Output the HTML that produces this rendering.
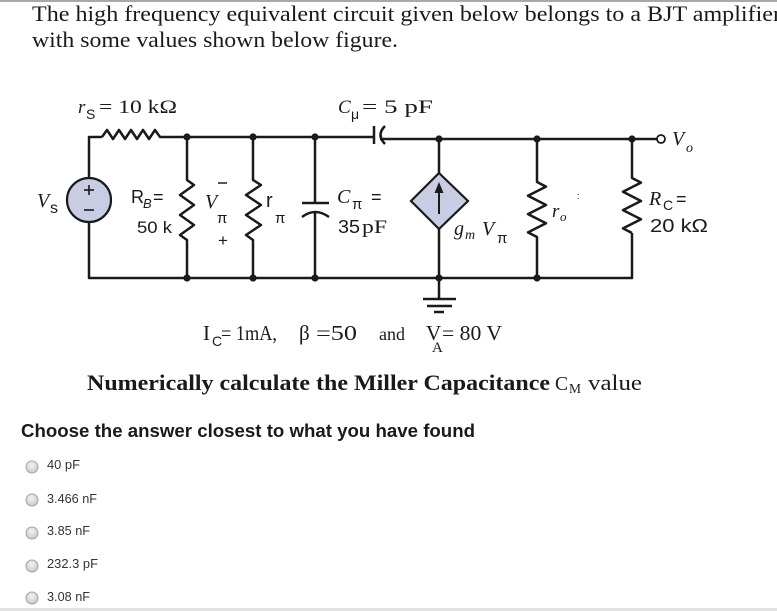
<!DOCTYPE html>
<html><head><meta charset="utf-8"><style>
html,body{margin:0;padding:0;background:#fff;}
svg{display:block;}
.s{font-family:"Liberation Serif",serif;fill:#1a1a1a;}
.a{font-family:"Liberation Sans",sans-serif;fill:#1a1a1a;}
.i{font-style:italic;}
.w{stroke:#1a1a1a;stroke-width:2.5;fill:none;stroke-linejoin:round;}
</style></head><body>
<svg width="777" height="611" viewBox="0 0 777 611" xmlns="http://www.w3.org/2000/svg">
<defs>
<radialGradient id="rg" cx="45%" cy="35%" r="70%">
<stop offset="0" stop-color="#f4f4f4"/><stop offset="1" stop-color="#c4c4c4"/>
</radialGradient>
</defs>
<rect x="0" y="0" width="777" height="611" fill="#fff"/>
<rect x="0" y="0" width="777" height="2" fill="#a8a8a8"/>
<rect x="0" y="608" width="777" height="3" fill="#e2e2e2"/>

<!-- header text -->
<text class="s" x="32" y="21" font-size="22" textLength="749" lengthAdjust="spacingAndGlyphs">The high frequency equivalent circuit given below belongs to a BJT amplifier</text>
<text class="s" x="32" y="47" font-size="22" textLength="366" lengthAdjust="spacingAndGlyphs">with some values shown below figure.</text>

<!-- circuit wires -->
<polyline class="w" points="89,178 89,137 102,137"/>
<polyline class="w" points="102,137 107,130 113,139 119,130 125,139 131,130 137,139 143,130 149,139 155,130 160,137 374,137"/>
<line class="w" x1="374" y1="126" x2="374" y2="144"/>
<path class="w" d="M385,126 Q376,135 385,144"/>
<line class="w" x1="380" y1="139" x2="657" y2="139"/>
<circle cx="661" cy="139" r="4" fill="#fff" stroke="#1a1a1a" stroke-width="1.8"/>
<polyline class="w" points="89,222 89,278 632,278 632,233"/>

<!-- Vs source -->
<circle cx="89" cy="200" r="22" fill="#c8cde4" stroke="#1a1a1a" stroke-width="2.2"/>
<line x1="84" y1="190" x2="94" y2="190" stroke="#1a1a1a" stroke-width="1.6"/>
<line x1="89" y1="185" x2="89" y2="195" stroke="#1a1a1a" stroke-width="1.6"/>
<line x1="84" y1="210" x2="94" y2="210" stroke="#1a1a1a" stroke-width="1.6"/>

<!-- RB -->
<polyline class="w" points="187,137 187,180 194,185 180,195 194,205 180,215 194,225 180,235 187,240 187,278"/>
<!-- r_pi -->
<polyline class="w" points="253,137 253,180 261,185 246,195 261,205 246,215 261,225 246,235 253,240 253,278"/>
<!-- C_pi -->
<line class="w" x1="315" y1="137" x2="315" y2="203"/>
<line class="w" x1="302" y1="203" x2="329" y2="203"/>
<path class="w" d="M302,217 Q315,207 329,217"/>
<line class="w" x1="315" y1="212" x2="315" y2="278"/>
<!-- dependent source -->
<line class="w" x1="439" y1="139" x2="439" y2="173"/>
<polygon points="439,173 468,201 439,229 411,201" fill="#c8cde4" stroke="#1a1a1a" stroke-width="2.2"/>
<line x1="439" y1="214" x2="439" y2="190" stroke="#1a1a1a" stroke-width="2"/>
<polygon points="439,182 434.5,193 443.5,193" fill="#1a1a1a"/>
<line class="w" x1="439" y1="229" x2="439" y2="299"/>
<line class="w" x1="423" y1="299" x2="456" y2="299"/>
<line class="w" x1="427" y1="306" x2="452" y2="306"/>
<line class="w" x1="434" y1="312" x2="444" y2="312"/>
<!-- r_o -->
<polyline class="w" points="537,139 537,182 546,186.6 528,195.8 546,205 528,214.1 546,223.3 528,232.4 537,237 537,278"/>
<!-- Rc -->
<polyline class="w" points="632,139 632,178 641,182.6 623,191.8 641,201 623,210.1 641,219.3 623,228.4 632,233"/>

<!-- nodes -->
<g fill="#1a1a1a">
<circle cx="187" cy="137" r="3.6"/><circle cx="253" cy="137" r="3.6"/><circle cx="315" cy="137" r="3.6"/>
<circle cx="439" cy="139" r="3.6"/><circle cx="537" cy="139" r="3.6"/><circle cx="632" cy="139" r="3.6"/>
<circle cx="187" cy="278" r="3.6"/><circle cx="253" cy="278" r="3.6"/><circle cx="315" cy="278" r="3.6"/>
<circle cx="439" cy="278" r="3.6"/><circle cx="537" cy="278" r="3.6"/>
</g>

<!-- circuit labels -->
<text class="s i" x="78" y="113" font-size="19">r</text>
<text class="a" x="86" y="119" font-size="14">S</text>
<text class="s" x="99" y="113" font-size="19" textLength="78" lengthAdjust="spacingAndGlyphs">= 10 kΩ</text>

<text class="s i" x="338" y="113" font-size="19">C</text>
<text class="a" x="351" y="119" font-size="14">μ</text>
<text class="s" x="362" y="113" font-size="19" textLength="71" lengthAdjust="spacingAndGlyphs">= 5 pF</text>

<text class="s i" x="37" y="207" font-size="20">V</text>
<text class="a" x="50" y="213" font-size="16">s</text>

<text class="a" x="131" y="203" font-size="18">R</text>
<text class="a i" x="143" y="208" font-size="13">B</text>
<text class="a" x="153" y="203" font-size="18">=</text>
<text class="a" x="137" y="233" font-size="17" textLength="35" lengthAdjust="spacingAndGlyphs">50 k</text>

<line x1="218" y1="183" x2="227" y2="183" stroke="#1a1a1a" stroke-width="1.5"/>
<text class="s i" x="205" y="208" font-size="20">V</text>
<text class="a" x="217" y="223" font-size="15">π</text>
<text class="a" x="223" y="246" font-size="17" text-anchor="middle">+</text>

<text class="a" x="266" y="207" font-size="20">r</text>
<text class="a" x="275" y="223" font-size="15">π</text>

<text class="s i" x="337" y="203" font-size="20">C</text>
<text class="a" x="352" y="209" font-size="15">π</text>
<text class="a" x="371" y="203" font-size="18">=</text>
<text class="a" x="338" y="233" font-size="18" textLength="22" lengthAdjust="spacingAndGlyphs">35</text>
<text class="s" x="362" y="233" font-size="19" textLength="25" lengthAdjust="spacingAndGlyphs">pF</text>

<text class="s i" x="454" y="235" font-size="20">g</text>
<text class="s i" x="465" y="239" font-size="14">m</text>
<text class="s i" x="482" y="235" font-size="20">V</text>
<text class="a" x="497" y="243" font-size="15">π</text>

<text class="s i" x="552" y="217" font-size="19">r</text>
<text class="s i" x="560" y="221" font-size="13">o</text>
<text class="a" x="577" y="199" font-size="9" fill="#999">:</text>

<text class="s i" x="649" y="205" font-size="20">R</text>
<text class="a" x="663" y="210" font-size="14">C</text>
<text class="a" x="676" y="205" font-size="18">=</text>
<text class="a" x="650" y="232" font-size="18" textLength="58" lengthAdjust="spacingAndGlyphs">20 kΩ</text>

<text class="s i" x="672" y="145" font-size="20">V</text>
<text class="s i" x="686" y="152" font-size="14">o</text>

<!-- parameters -->
<text class="s" x="203" y="340" font-size="21">I</text>
<text class="a" x="212" y="346" font-size="14">C</text>
<text class="s" x="221" y="340" font-size="21" textLength="56" lengthAdjust="spacingAndGlyphs">= 1mA,</text>
<text class="s" x="299" y="340" font-size="21">β</text>
<text class="s" x="316" y="340" font-size="21" textLength="41" lengthAdjust="spacingAndGlyphs">=50</text>
<text class="s" x="379" y="340" font-size="18" textLength="26" lengthAdjust="spacingAndGlyphs">and</text>
<text class="s" x="426" y="340" font-size="21">V</text>
<text class="s" x="432" y="352" font-size="15">A</text>
<text class="s" x="442" y="340" font-size="21" textLength="60" lengthAdjust="spacingAndGlyphs">= 80 V</text>

<text class="s" x="87" y="390" font-size="22" font-weight="bold" textLength="463" lengthAdjust="spacingAndGlyphs">Numerically calculate the Miller Capacitance</text>
<text class="s" x="555" y="390" font-size="20" textLength="13" lengthAdjust="spacingAndGlyphs">C</text>
<text class="s" x="569" y="393" font-size="14" textLength="12" lengthAdjust="spacingAndGlyphs">M</text>
<text class="s" x="588" y="390" font-size="22" textLength="54" lengthAdjust="spacingAndGlyphs">value</text>

<!-- question -->
<text class="a" x="21" y="437" font-size="18" font-weight="bold" fill="#111" textLength="454" lengthAdjust="spacingAndGlyphs">Choose the answer closest to what you have found</text>

<g stroke="#a5a5a5" stroke-width="1" fill="url(#rg)">
<circle cx="32" cy="467" r="6"/>
<circle cx="32" cy="500" r="6"/>
<circle cx="32" cy="533" r="6"/>
<circle cx="32" cy="566" r="6"/>
<circle cx="32" cy="598" r="6"/>
</g>
<g class="a" font-size="12.5" style="fill:#333">
<text x="47" y="469" textLength="33" lengthAdjust="spacingAndGlyphs">40 pF</text>
<text x="47" y="503" textLength="50" lengthAdjust="spacingAndGlyphs">3.466 nF</text>
<text x="47" y="535" textLength="43" lengthAdjust="spacingAndGlyphs">3.85 nF</text>
<text x="47" y="568" textLength="51" lengthAdjust="spacingAndGlyphs">232.3 pF</text>
<text x="47" y="601" textLength="43" lengthAdjust="spacingAndGlyphs">3.08 nF</text>
</g>
</svg>
</body></html>
